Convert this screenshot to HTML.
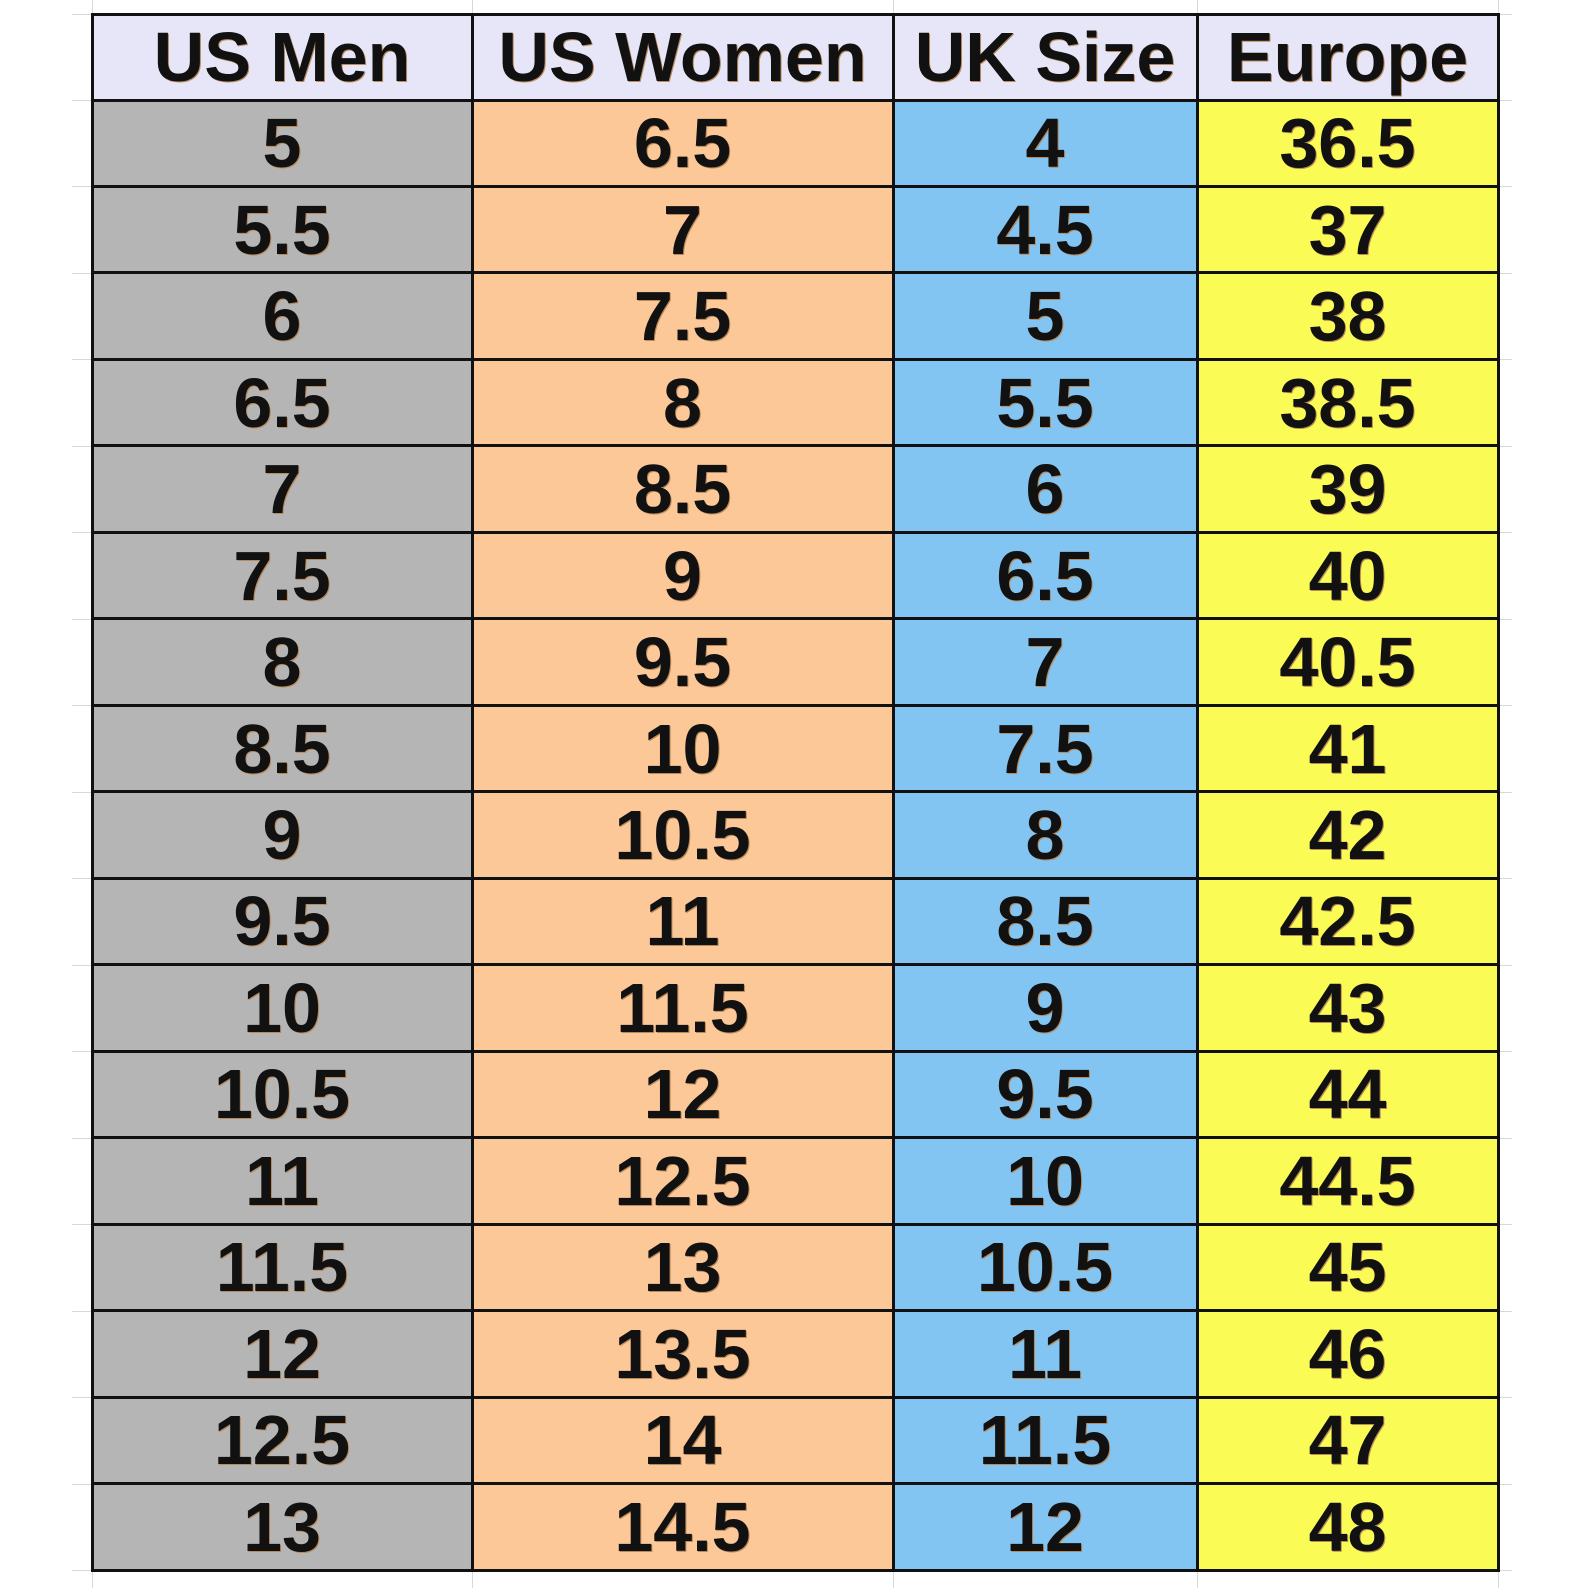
<!DOCTYPE html>
<html><head><meta charset="utf-8"><style>
html,body{margin:0;padding:0;background:#fff;}
#wrap{position:relative;width:1588px;height:1588px;overflow:hidden;font-family:"Liberation Sans",Arial,sans-serif;font-weight:bold;}
.cell{position:absolute;box-sizing:border-box;display:flex;align-items:center;justify-content:center;font-size:70px;color:#111;text-shadow:1px 1px 0 #b98a5a;}
.hl{position:absolute;background:#111;}
.g{position:absolute;background:#d8d8d8;}
</style></head><body>
<div id="wrap"></div>
<script>
const headers=["US Men","US Women","UK Size","Europe"];
const usMen=["5","5.5","6","6.5","7","7.5","8","8.5","9","9.5","10","10.5","11","11.5","12","12.5","13"];
const usWomen=["6.5","7","7.5","8","8.5","9","9.5","10","10.5","11","11.5","12","12.5","13","13.5","14","14.5"];
const ukSize=["4","4.5","5","5.5","6","6.5","7","7.5","8","8.5","9","9.5","10","10.5","11","11.5","12"];
const europe=["36.5","37","38","38.5","39","40","40.5","41","42","42.5","43","44","44.5","45","46","47","48"];
const cols=[usMen,usWomen,ukSize,europe];
const colNames=["us-men","us-women","uk-size","europe"];
const colX=[92,472,893,1197,1498];
const colors=["#b5b5b5","#fcc898","#82c4f2","#fbfb55"];
const top0=14,headB=100,bottom=1570;
const rowH=(bottom-headB)/usMen.length;
const W=document.getElementById('wrap');
// faint sheet gridlines
for(let i=0;i<colX.length;i++){const g=document.createElement('div');g.className='g';g.style.cssText=`left:${colX[i]}px;top:0;width:1px;height:1588px`;


W.appendChild(g);}
for(let r=0;r<=usMen.length+1;r++){const y=r==0?top0:headB+(r-1)*rowH;const g=document.createElement('div');g.className='g';g.style.cssText=`left:72px;top:${y}px;width:1440px;height:1px`;


W.appendChild(g);}
function cell(x0,x1,y0,y1,txt,bg,name){const c=document.createElement('div');c.className='cell';
c.style.cssText=`left:${x0}px;top:${y0}px;width:${x1-x0}px;height:${y1-y0}px;background:${bg}`;
c.textContent=txt;


W.appendChild(c);}
for(let c=0;c<4;c++){
cell(colX[c],colX[c+1],top0,headB,headers[c],'#e6e6f8','header-'+colNames[c]);
for(let r=0;r<usMen.length;r++){cell(colX[c],colX[c+1],headB+r*rowH,headB+(r+1)*rowH,cols[c][r],colors[c],colNames[c]+'-cell');}
}
// black borders
for(let i=0;i<colX.length;i++){const l=document.createElement('div');l.className='hl';l.style.cssText=`left:${colX[i]-1.5}px;top:${top0-1.5}px;width:3px;height:${bottom-top0+3}px`;


W.appendChild(l);}
for(let r=0;r<=usMen.length+1;r++){const y=r==0?top0:headB+(r-1)*rowH;const l=document.createElement('div');l.className='hl';l.style.cssText=`left:${colX[0]-1.5}px;top:${y-1.5}px;width:${colX[4]-colX[0]+3}px;height:3px`;


W.appendChild(l);}
</script>
</body></html>
